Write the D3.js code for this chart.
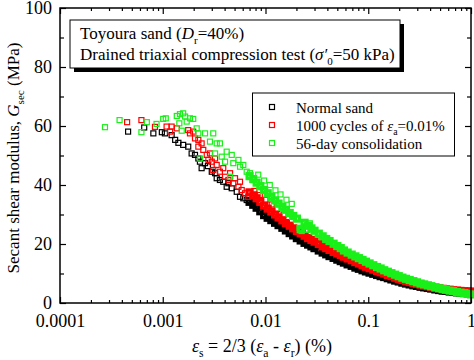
<!DOCTYPE html>
<html>
<head>
<meta charset="utf-8">
<script src="https://cdn.jsdelivr.net/npm/d3@7"></script>
<style>
  body { margin: 0; background: #fff; }
  svg { display: block; }
  svg text { font-family: "Liberation Serif", "Times New Roman", Times, "DejaVu Serif", serif; }
</style>
</head>
<body>
<div id="chart"></div>
<script>
// values: strain in %, G_sec in MPa
const xTickValues = [0.0001, 0.001, 0.01, 0.1, 1];
const xTickLabels = ["0.0001", "0.001", "0.01", "0.1", "1"];
const yTickValues = [0, 20, 40, 60, 80, 100];
const yMinorValues = [10, 30, 50, 70, 90];

const seriesNames = ["Normal sand", "1000 cycles", "56-day consolidation"];

// scattered points at small strain
const normalSparse = [
  [0.00046, 58.1], [0.00066, 59.5], [0.00081, 57.5], [0.00098, 57.9], [0.00105, 57.5],
  [0.00122, 56.9], [0.00132, 55.3], [0.00142, 54.3], [0.00158, 53.6], [0.00177, 53.0],
  [0.00191, 50.7], [0.00206, 50.2], [0.00222, 49.0], [0.0023, 47.9], [0.00239, 45.7],
  [0.00258, 47.4], [0.00275, 46.4], [0.0030, 44.5], [0.00323, 44.0], [0.00335, 42.3],
  [0.0036, 41.7], [0.00388, 41.1], [0.00419, 39.4], [0.00435, 40.6], [0.00469, 38.9],
  [0.00525, 37.7], [0.00565, 36.0], [0.00608, 35.5], [0.00656, 34.9]
];
const cyclicSparse = [
  [0.00045, 61.3], [0.00062, 62.0], [0.00084, 59.7], [0.00109, 59.8], [0.00122, 59.8],
  [0.00137, 59.2], [0.00118, 58.1], [0.00177, 58.6], [0.00184, 57.5], [0.00198, 58.1],
  [0.00206, 55.8], [0.00222, 55.3], [0.00239, 54.1], [0.00222, 53.0], [0.00248, 51.9],
  [0.00268, 50.2], [0.00288, 50.7], [0.00278, 48.5], [0.0030, 47.9], [0.00323, 49.0],
  [0.00335, 46.8], [0.0031, 45.1], [0.0036, 44.5], [0.00388, 45.7], [0.00404, 42.8],
  [0.00435, 41.7], [0.00452, 44.0], [0.00486, 40.6], [0.00505, 42.3], [0.00545, 39.4],
  [0.00587, 38.3], [0.00565, 41.1], [0.00632, 37.2], [0.0068, 36.0],
  [0.0078, 38.0], [0.0088, 36.6], [0.0100, 35.0], [0.0115, 33.4], [0.013, 31.8],
  [0.015, 30.0], [0.0215, 25.2], [0.023, 24.6]
];
const agedSparse = [
  [0.000274, 59.6], [0.00038, 62.0], [0.00062, 57.9], [0.0007, 61.3], [0.00087, 60.7],
  [0.00101, 62.4], [0.00107, 62.6], [0.00137, 63.4], [0.00147, 64.0], [0.00158, 64.3],
  [0.00165, 63.2], [0.00184, 62.6], [0.00198, 62.4], [0.00145, 60.9], [0.00153, 58.4],
  [0.00171, 61.5], [0.00214, 59.2], [0.00222, 57.5], [0.00258, 57.5], [0.00288, 54.7],
  [0.0031, 57.5], [0.00335, 54.1], [0.00323, 50.7], [0.0036, 54.1], [0.00375, 49.6],
  [0.00404, 47.9], [0.00419, 51.3], [0.00469, 50.2], [0.00486, 47.4], [0.00545, 48.5],
  [0.00565, 46.2], [0.00608, 46.8], [0.00656, 44.5], [0.00706, 44.0], [0.00452, 42.8],
  [0.0023, 49.0], [0.0085, 43.5], [0.0097, 41.5], [0.011, 40.0], [0.0125, 38.2],
  [0.014, 36.8], [0.016, 35.0], [0.018, 33.6], [0.0215, 25.5], [0.0225, 24.4],
  [0.025, 26.0], [0.0255, 24.8], [0.027, 27.0]
];

// dense part of the tests, read along each band
const denseStrain = [
  0.007, 0.0076, 0.0082, 0.0089, 0.0097, 0.0105, 0.0114, 0.0124, 0.0134, 0.0146,
  0.0158, 0.0172, 0.0186, 0.0202, 0.022, 0.024, 0.026, 0.028, 0.030, 0.033,
  0.036, 0.039, 0.042, 0.046, 0.050, 0.054, 0.058, 0.063, 0.069, 0.075,
  0.081, 0.088, 0.095, 0.103, 0.112, 0.122, 0.132, 0.143, 0.155, 0.168,
  0.183, 0.198, 0.215, 0.233, 0.253, 0.275, 0.298, 0.323, 0.35, 0.38,
  0.41, 0.45, 0.49, 0.53, 0.57, 0.62, 0.67, 0.73, 0.79, 0.86,
  0.93, 1.0
];
const normalDense = [
  34.3, 33.3, 32.3, 31.1, 29.8, 28.9, 28.1, 27.2, 26.4, 25.5,
  24.6, 23.7, 22.9, 22.0, 21.2, 20.4, 19.8, 19.2, 18.6, 17.8,
  17.1, 16.5, 15.9, 15.3, 14.7, 14.2, 13.7, 13.1, 12.6, 12.0,
  11.6, 11.1, 10.7, 10.3, 9.9, 9.5, 9.1, 8.8, 8.4, 8.0,
  7.6, 7.3, 6.9, 6.6, 6.3, 6.0, 5.8, 5.5, 5.3, 5.1,
  4.9, 4.6, 4.4, 4.2, 4.1, 3.9, 3.8, 3.6, 3.5, 3.4,
  3.3, 3.2
];
const cyclicDense = [
  37.5, 36.5, 35.5, 34.3, 33.0, 32.0, 31.0, 30.0, 29.0, 28.0,
  27.1, 26.2, 25.3, 24.4, 23.6, 22.8, 22.0, 21.4, 20.8, 20.0,
  19.2, 18.6, 18.0, 17.3, 16.8, 16.3, 15.7, 15.1, 14.5, 13.9,
  13.4, 12.8, 12.3, 11.8, 11.3, 10.8, 10.4, 10.0, 9.5, 9.1,
  8.6, 8.2, 7.8, 7.5, 7.1, 6.8, 6.5, 6.2, 5.9, 5.7,
  5.4, 5.2, 5.0, 4.8, 4.6, 4.5, 4.3, 4.2, 4.1, 4.0,
  3.9, 3.9
];
const agedDense = [
  43.0, 42.0, 40.8, 39.6, 38.3, 37.2, 36.0, 34.8, 33.7, 32.6,
  31.6, 30.5, 29.5, 28.6, 25.0, 27.2, 26.2, 25.3, 24.5, 23.5,
  22.6, 21.7, 21.0, 20.1, 19.3, 18.6, 17.8, 17.1, 16.4, 15.8,
  15.2, 14.6, 14.0, 13.4, 12.8, 12.2, 11.7, 11.1, 10.6, 10.1,
  9.6, 9.1, 8.6, 8.2, 7.8, 7.4, 7.0, 6.6, 6.3, 6.0,
  5.7, 5.3, 5.0, 4.7, 4.5, 4.2, 4.0, 3.7, 3.5, 3.3,
  3.1, 2.9
];

const colors = ["#000000", "#ff0000", "#19f019"];
const FONT = "'Liberation Serif', 'Times New Roman', Times, 'DejaVu Serif', serif";

const W = 474, H = 360;
const svg = d3.select("#chart").append("svg")
  .attr("width", W)
  .attr("height", H);

const x = d3.scaleLog().domain([0.0001, 1]).range([60, 471]);
const y = d3.scaleLinear().domain([0, 100]).range([303, 8]);

// markers: sparse points thin, the dense run overlaps so much it reads as a solid band
const sq = 5;
[normalSparse, cyclicSparse, agedSparse].forEach((pts, k) => {
  const dense = [normalDense, cyclicDense, agedDense][k];
  svg.append("g").selectAll("rect")
    .data(denseStrain.map((s, i) => [s, dense[i]]))
    .enter()
    .append("rect")
    .attr("x", (d) => x(d[0]) - sq / 2)
    .attr("y", (d) => y(d[1]) - sq / 2)
    .attr("width", sq)
    .attr("height", sq)
    .attr("fill", "none")
    .attr("stroke", colors[k])
    .attr("stroke-width", 3.2);
  svg.append("g").selectAll("rect")
    .data(pts)
    .enter()
    .append("rect")
    .attr("x", (d) => x(d[0]) - sq / 2)
    .attr("y", (d) => y(d[1]) - sq / 2)
    .attr("width", sq)
    .attr("height", sq)
    .attr("fill", "none")
    .attr("stroke", colors[k])
    .attr("stroke-width", 1.2);
});

// axes, ticks inside on all four sides
const minorX = [];
for (let e = -4; e < 0; e++) {
  for (let m = 2; m <= 9; m++) minorX.push(m * Math.pow(10, e));
}

const styleAxis = (g) => {
  g.attr("font-family", FONT).attr("font-size", 18);
  g.selectAll(".domain").remove();
  g.selectAll("line").attr("stroke", "#000").attr("stroke-width", 1.2);
  g.selectAll("text").attr("fill", "#000");
};

svg.append("g")
  .attr("transform", "translate(0,303)")
  .call(d3.axisBottom(x).tickValues(xTickValues).tickSize(-6).tickPadding(11)
    .tickFormat((d, i) => xTickLabels[i]))
  .call(styleAxis);
svg.append("g")
  .attr("transform", "translate(0,303)")
  .call(d3.axisBottom(x).tickValues(minorX).tickSize(-3).tickFormat(""))
  .call(styleAxis);
svg.append("g")
  .attr("transform", "translate(0,8)")
  .call(d3.axisTop(x).tickValues(xTickValues).tickSize(-6).tickFormat(""))
  .call(styleAxis);
svg.append("g")
  .attr("transform", "translate(0,8)")
  .call(d3.axisTop(x).tickValues(minorX).tickSize(-3).tickFormat(""))
  .call(styleAxis);

svg.append("g")
  .attr("transform", "translate(60,0)")
  .call(d3.axisLeft(y).tickValues(yTickValues).tickSize(-6).tickPadding(8))
  .call(styleAxis);
svg.append("g")
  .attr("transform", "translate(60,0)")
  .call(d3.axisLeft(y).tickValues(yMinorValues).tickSize(-4).tickFormat(""))
  .call(styleAxis);
svg.append("g")
  .attr("transform", "translate(471,0)")
  .call(d3.axisRight(y).tickValues(yTickValues).tickSize(-6).tickFormat(""))
  .call(styleAxis);
svg.append("g")
  .attr("transform", "translate(471,0)")
  .call(d3.axisRight(y).tickValues(yMinorValues).tickSize(-4).tickFormat(""))
  .call(styleAxis);

svg.append("rect")
  .attr("x", 60).attr("y", 8)
  .attr("width", 411).attr("height", 295)
  .attr("fill", "none")
  .attr("stroke", "#000")
  .attr("stroke-width", 1.5);

// rich text helper: parts are [text, italic?, subscript?]
function richText(sel, parts, size) {
  let shift = 0;
  sel.attr("font-family", FONT).attr("font-size", size);
  parts.forEach((p) => {
    const t = sel.append("tspan").text(p[0]);
    if (p[1]) t.attr("font-style", "italic");
    const want = p[2] ? size * 0.3 : 0;
    if (want !== shift) t.attr("dy", want - shift);
    shift = want;
    if (p[2]) t.attr("font-size", size * 0.65);
  });
  return sel;
}

// axis titles
richText(
  svg.append("text")
    .attr("transform", "translate(19,158) rotate(-90)")
    .attr("text-anchor", "middle"),
  [["Secant shear modulus, "], ["G", true], ["sec", false, true], [" (MPa)"]], 17);

richText(
  svg.append("text")
    .attr("x", 262).attr("y", 352)
    .attr("text-anchor", "middle"),
  [["\u03b5", true], ["s", false, true], [" = 2/3 ("], ["\u03b5", true], ["a", false, true],
   [" - "], ["\u03b5", true], ["r", false, true], [")  (%)"]], 18);

// annotation box with shadow
svg.append("rect")
  .attr("x", 74).attr("y", 24).attr("width", 330).attr("height", 48)
  .attr("fill", "#000");
svg.append("rect")
  .attr("x", 70).attr("y", 20).attr("width", 330).attr("height", 48)
  .attr("fill", "#fff").attr("stroke", "#000").attr("stroke-width", 1);
richText(
  svg.append("text").attr("x", 80).attr("y", 39),
  [["Toyoura sand ("], ["D", true], ["r", false, true], ["=40%)"]], 17);
richText(
  svg.append("text").attr("x", 80).attr("y", 60),
  [["Drained triaxial compression test ("], ["\u03c3\u2032", true], ["0", false, true], ["=50 kPa)"]], 17);

// legend
svg.append("rect")
  .attr("x", 252.5).attr("y", 93).attr("width", 202).attr("height", 63)
  .attr("fill", "#fff").attr("stroke", "#000").attr("stroke-width", 1);
const legendY = [107, 125, 143];
const legendParts = [
  [["Normal sand"]],
  [["1000 cycles of "], ["\u03b5", true], ["a", false, true], ["=0.01%"]],
  [["56-day consolidation"]]
];
seriesNames.forEach((name, k) => {
  svg.append("rect")
    .attr("x", 272 - sq / 2).attr("y", legendY[k] - sq / 2)
    .attr("width", sq).attr("height", sq)
    .attr("fill", "none").attr("stroke", colors[k]).attr("stroke-width", 1.2);
  richText(
    svg.append("text").attr("x", 296).attr("y", legendY[k] + 5.5),
    legendParts[k], 15);
});
</script>
</body>
</html>
